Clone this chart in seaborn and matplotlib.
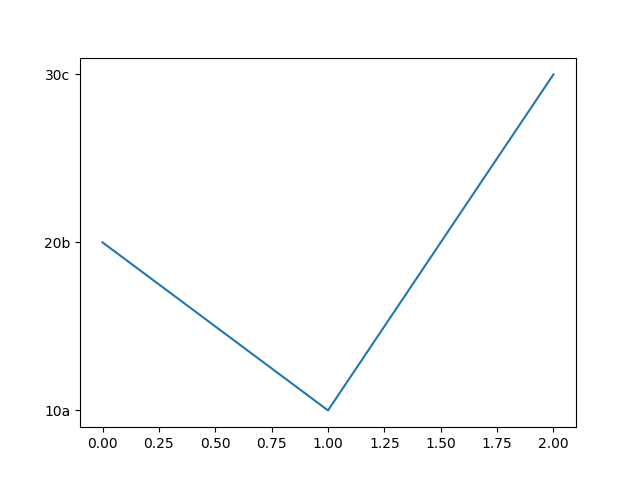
import matplotlib
matplotlib.use("Agg")
import matplotlib.pyplot as plt
import pandas as pd
import seaborn as sns

x_vals = [0, 1, 2]
y_vals = [20, 10, 30]
ytick_vals = [10, 20, 30]
ytick_labels = ["10a", "20b", "30c"]

df = pd.DataFrame({"x": x_vals, "y": y_vals})

fig, ax = plt.subplots(figsize=(6.4, 4.8), dpi=100)
sns.lineplot(data=df, x="x", y="y", ax=ax)
ax.set_yticks(ytick_vals)
ax.set_yticklabels(ytick_labels)
ax.set_xlabel("")
ax.set_ylabel("")

plt.savefig("out.png")
